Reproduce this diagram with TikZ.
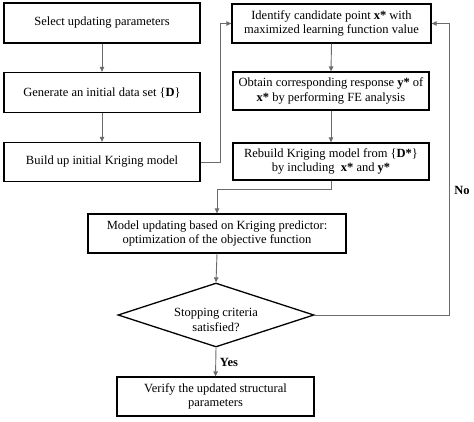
\documentclass[tikz,border=0pt]{standalone}
\usepackage{fontspec}
\setmainfont{Liberation Serif}
\usetikzlibrary{arrows.meta,shapes.geometric}
\begin{document}
\begin{tikzpicture}[x=1pt,y=-1pt,
  box/.style={draw=black, line width=1.3pt, inner sep=0pt, align=center, font=\fontsize{12.5}{14.8}\selectfont},
  conn/.style={draw=black!58, line width=0.9pt, -{Triangle[length=5pt,width=4.5pt]}},
  lab/.style={font=\fontsize{12.5}{14.8}\selectfont\bfseries, inner sep=0pt}]
\useasboundingbox (0,0) rectangle (474,421);
\node[box, minimum width=196pt, minimum height=40pt] (b1) at (102,23) {Select updating parameters};
\node[box, minimum width=196pt, minimum height=40pt] (b2) at (102,92.5) {Generate an initial data set \{\textbf{D}\}};
\node[box, minimum width=196pt, minimum height=39pt] (b3) at (102,162) {Build up initial Kriging model};
\node[box, minimum width=199pt, minimum height=39pt] (r1) at (331.5,23.5) {Identify candidate point \textbf{x*} with\\maximized learning function value};
\node[box, minimum width=196pt, minimum height=38pt] (r2) at (331,91) {Obtain corresponding response \textbf{y*} of\\\textbf{x*} by performing FE analysis};
\node[box, minimum width=196pt, minimum height=37pt] (r3) at (331,161.5) {Rebuild Kriging model from \{\textbf{D*}\}\\by including \ \textbf{x*} and \textbf{y*}};
\node[box, minimum width=258pt, minimum height=39pt] (model) at (217,233.5) {Model updating based on Kriging predictor:\\optimization of the objective function};
\node[draw=black, line width=1.3pt, diamond, aspect=3.06, minimum width=196pt, minimum height=64pt, inner sep=0pt] (dec) at (216,315) {};
\node[box, draw=none] (dectext) at (216,320) {Stopping criteria\\satisfied?};
\node[box, minimum width=197pt, minimum height=39pt] (ver) at (215.5,396.5) {Verify the updated structural\\parameters};
\draw[conn] (b1.south) -- (b2.north);
\draw[conn] (b2.south) -- (b3.north);
\draw[conn] (b3.east) -- ++(20,0) |- (r1.west);
\draw[conn] (r1.south) -- (r2.north);
\draw[conn] (r2.south) -- (r3.north);
\draw[conn] (r3.south) -- ++(0,8.5) -| (model.north);
\draw[conn] (model.south) -- (dec.north);
\draw[conn] (dec.east) -- (449,315) |- (r1.east);
\draw[conn] (dec.south) -- (ver.north);
\node[lab] (no) at (462,190) {No};
\node[lab] (yes) at (229,362) {Yes};
\end{tikzpicture}
\end{document}
